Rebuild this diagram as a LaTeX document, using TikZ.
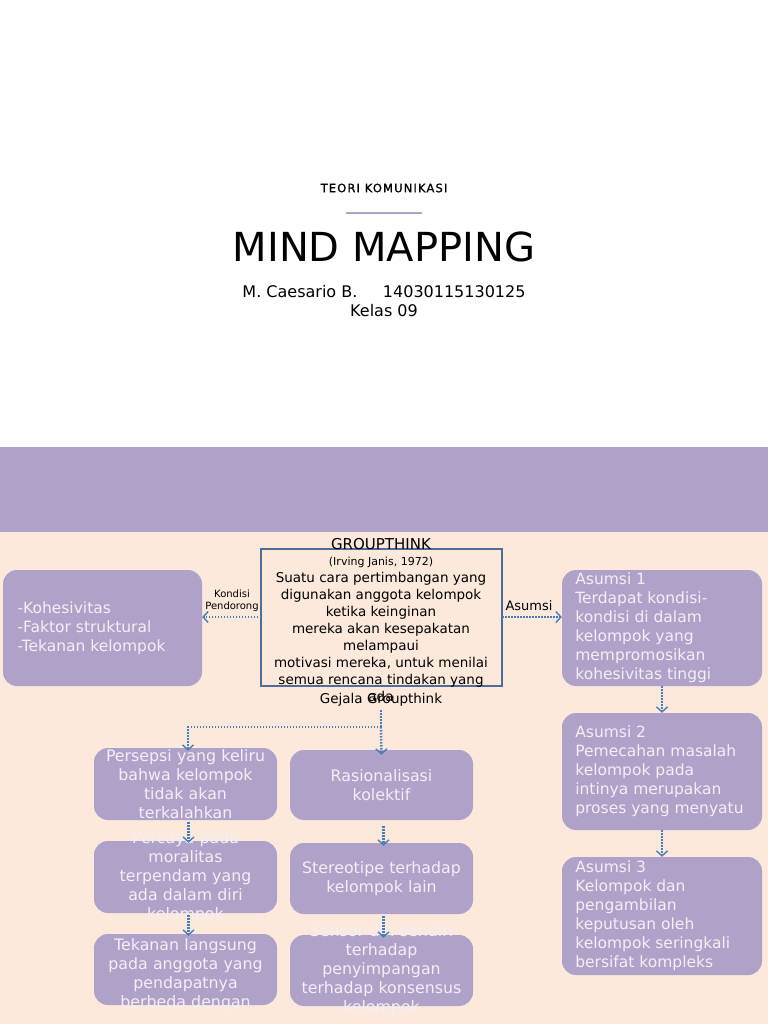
\documentclass[tikz,border=0pt]{standalone}
\usepackage{fontspec}
\setmainfont{DejaVu Sans}
\usetikzlibrary{positioning,arrows.meta}
\definecolor{lavender}{HTML}{B0A1C9}
\definecolor{peach}{HTML}{FCE9DC}
\definecolor{linkblue}{HTML}{4A7DB5}
\definecolor{boxline}{HTML}{4F6D99}
\definecolor{boxtext}{HTML}{F4EEF6}
\begin{document}
\begin{tikzpicture}[x=1pt,y=-1pt,
  card/.style={draw=none,fill=lavender,rounded corners=14pt,inner sep=0pt},
  cardtext/.style={text=boxtext,font=\fontsize{15.8}{19}\selectfont,align=center,text width=#1},
  dots/.style={linkblue,line width=2.4pt,dash pattern=on 1.5pt off 1.5pt},
  link/.style={dots,-{Straight Barb[length=5pt,width=11pt,line width=1.4pt]}},
  tiny/.style={font=\fontsize{10}{12}\selectfont,align=center}]
  \useasboundingbox (0,0) rectangle (768,1024);
  % backgrounds
  \fill[white] (0,0) rectangle (768,447);
  \fill[lavender] (0,447) rectangle (768,532);
  \fill[peach] (0,532) rectangle (768,1024);

  % title block
  \node (kicker) at (384,188) {\fontsize{11.5}{13}\selectfont\addfontfeature{LetterSpace=10,FakeBold=1.2}TEORI KOMUNIKASI};
  \draw[lavender,line width=1.5pt] (346,213) -- (422,213);
  \node (title) at (384,247) {\fontsize{40}{44}\selectfont MIND MAPPING};
  \node[align=center,font=\fontsize{16}{19}\selectfont] (author) at (384,301)
    {M. Caesario B.\hspace{1.6em}14030115130125\\Kelas 09};

  % central definition
  \draw[boxline,line width=1.2pt] (261,549) rectangle (502,686);
  \coordinate (def-w) at (261,617);
  \coordinate (def-e) at (502,617);
  \node[font=\fontsize{15}{17}\selectfont] (gt) at (381,544) {GROUPTHINK};
  \node[align=center,font=\fontsize{13.5}{17}\selectfont,anchor=north] (def) at (381,554)
    {{\fontsize{11}{13}\selectfont (Irving Janis, 1972)}\\Suatu cara pertimbangan yang\\digunakan anggota kelompok\\ketika keinginan\\mereka akan kesepakatan\\melampaui\\motivasi mereka, untuk menilai\\semua rencana tindakan yang\\ada};
  \node[font=\fontsize{13.5}{17}\selectfont] (gejala) at (381,700) {Gejala Groupthink};

  % left: kondisi pendorong
  \node[card,minimum width=199pt,minimum height=116pt] (kondisi) at (102.5,628) {};
  \node[text=boxtext,font=\fontsize{15.5}{19}\selectfont,align=left,anchor=west] at (14,628)
    {-Kohesivitas\\-Faktor struktural\\-Tekanan kelompok};
  \draw[link] (def-w) -- (def-w -| kondisi.east);
  \node[tiny] at (232,601) {Kondisi\\Pendorong};

  % right: asumsi
  \node[card,minimum width=200pt,minimum height=116pt] (as1) at (662,628) {};
  \node[card,minimum width=200pt,minimum height=117pt] (as2) at (662,771.5) {};
  \node[card,minimum width=200pt,minimum height=118pt] (as3) at (662,916) {};
  \foreach \n/\t in {as1/{Asumsi 1\\Terdapat kondisi-\\kondisi di dalam\\kelompok yang\\mempromosikan\\kohesivitas tinggi},
                     as2/{Asumsi 2\\Pemecahan masalah\\kelompok pada\\intinya merupakan\\proses yang menyatu},
                     as3/{Asumsi 3\\Kelompok dan\\pengambilan\\keputusan oleh\\kelompok seringkali\\bersifat kompleks}}
    \node[text=boxtext,font=\fontsize{15.5}{19}\selectfont,align=left,anchor=west] at (\n.west) [xshift=10pt] {\t};
  \draw[link] (def-e) -- (def-e -| as1.west);
  \node[font=\fontsize{13}{15}\selectfont] at (529,606) {Asumsi};
  \draw[link] (as1) -- (as2);
  \draw[link] (as2) -- (as3);

  % gejala columns
  \node[card,minimum width=183pt,minimum height=72pt] (g1) at (185.5,784) {};
  \node[card,minimum width=183pt,minimum height=72pt] (g2) at (185.5,877) {};
  \node[card,minimum width=183pt,minimum height=71pt] (g3) at (185.5,969.5) {};
  \node[card,minimum width=183pt,minimum height=70pt] (g4) at (381.5,785) {};
  \node[card,minimum width=183pt,minimum height=71pt] (g5) at (381.5,878.5) {};
  \node[card,minimum width=183pt,minimum height=71pt] (g6) at (381.5,970.5) {};
  \node[cardtext=182pt] at (g1) {Persepsi yang keliru\\bahwa kelompok\\tidak akan\\terkalahkan};
  \node[cardtext=182pt] at (g2) {Percaya pada\\moralitas\\terpendam yang\\ada dalam diri\\kelompok};
  \node[cardtext=182pt,anchor=north] at (g3.north) [yshift=-1pt] {Tekanan langsung\\pada anggota yang\\pendapatnya\\berbeda dengan};
  \node[cardtext=182pt] at (g4) {Rasionalisasi\\kolektif};
  \node[cardtext=182pt] at (g5) {Stereotipe terhadap\\kelompok lain};
  \node[cardtext=182pt] at (g6) {Sensor diri sendiri\\terhadap\\penyimpangan\\terhadap konsensus\\kelompok};

  \coordinate (split) at (381,727);
  \draw[dots] (gejala.south) -- (split);
  \draw[link] (split) -| ([xshift=2.5pt,yshift=-3pt]g1.north);
  \draw[link] (split) -- ([yshift=-5pt]g4.north);
  \draw[link] (g1.south) ++(3,2) -- ([xshift=3pt,yshift=-2pt]g2.north);
  \draw[link] (g2.south) ++(3,2) -- ([xshift=3pt,yshift=-2pt]g3.north);
  \draw[link] (g4.south) ++(2,6) -- ([xshift=2pt,yshift=-3pt]g5.north);
  \draw[link] (g5.south) ++(2,2) -- ([xshift=2pt,yshift=-3pt]g6.north);
\end{tikzpicture}
\end{document}
